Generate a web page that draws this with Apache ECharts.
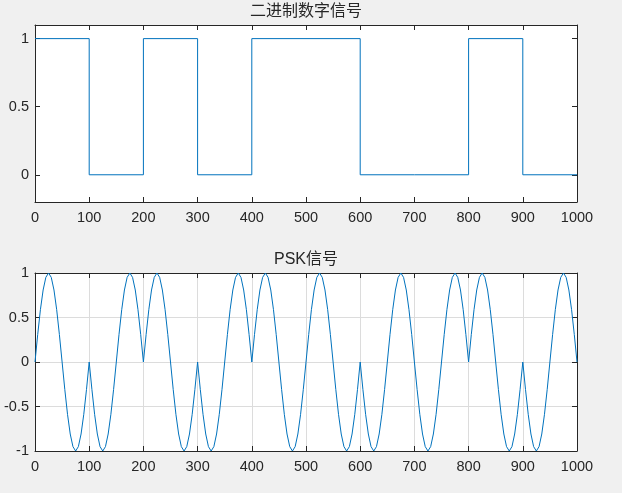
<!DOCTYPE html>
<html><head><meta charset="utf-8">
<script src="https://cdn.jsdelivr.net/npm/echarts@6/dist/echarts.min.js"></script>
<style>html,body{margin:0;padding:0;background:#f0f0f0}#c{width:622px;height:493px}</style>
</head><body><div id="c"></div>
<script>
// ---- data ----
const bitTitle = '二进制数字信号';
const pskTitle = 'PSK信号';
const bitDuration = 100;            // samples per bit
const bits = [1, 0, 1, 0, 1, 1, 0, 0, 1, 0];
const sampleStep = 5;               // spacing of the PSK samples below
const pskValues = [
  0, 0.309, 0.588, 0.809, 0.951, 1, 0.951, 0.809, 0.588, 0.309, 0, -0.309, -0.588, -0.809, -0.951, -1, -0.951, -0.809, -0.588, -0.309,
  0, -0.309, -0.588, -0.809, -0.951, -1, -0.951, -0.809, -0.588, -0.309, 0, 0.309, 0.588, 0.809, 0.951, 1, 0.951, 0.809, 0.588, 0.309,
  0, 0.309, 0.588, 0.809, 0.951, 1, 0.951, 0.809, 0.588, 0.309, 0, -0.309, -0.588, -0.809, -0.951, -1, -0.951, -0.809, -0.588, -0.309,
  0, -0.309, -0.588, -0.809, -0.951, -1, -0.951, -0.809, -0.588, -0.309, 0, 0.309, 0.588, 0.809, 0.951, 1, 0.951, 0.809, 0.588, 0.309,
  0, 0.309, 0.588, 0.809, 0.951, 1, 0.951, 0.809, 0.588, 0.309, 0, -0.309, -0.588, -0.809, -0.951, -1, -0.951, -0.809, -0.588, -0.309,
  0, 0.309, 0.588, 0.809, 0.951, 1, 0.951, 0.809, 0.588, 0.309, 0, -0.309, -0.588, -0.809, -0.951, -1, -0.951, -0.809, -0.588, -0.309,
  0, -0.309, -0.588, -0.809, -0.951, -1, -0.951, -0.809, -0.588, -0.309, 0, 0.309, 0.588, 0.809, 0.951, 1, 0.951, 0.809, 0.588, 0.309,
  0, -0.309, -0.588, -0.809, -0.951, -1, -0.951, -0.809, -0.588, -0.309, 0, 0.309, 0.588, 0.809, 0.951, 1, 0.951, 0.809, 0.588, 0.309,
  0, 0.309, 0.588, 0.809, 0.951, 1, 0.951, 0.809, 0.588, 0.309, 0, -0.309, -0.588, -0.809, -0.951, -1, -0.951, -0.809, -0.588, -0.309,
  0, -0.309, -0.588, -0.809, -0.951, -1, -0.951, -0.809, -0.588, -0.309, 0, 0.309, 0.588, 0.809, 0.951, 1, 0.951, 0.809, 0.588, 0.309,
  0
];
const xMin = 0, xMax = 1000, xInterval = 100;
const topYMin = -0.2, topYMax = 1.1;
const topYTicks = [0, 0.5, 1];
const bottomYMin = -1, bottomYMax = 1, bottomYInterval = 0.5;

// ---- build ----
const bitData = bits.map((b, i) => [i * bitDuration, b]);
bitData.push([bits.length * bitDuration, bits[bits.length - 1]]);
const pskData = pskValues.map((v, i) => [i * sampleStep, v]);

const axisColor = '#262626';
const gridColor = '#dcdcdc';
const lineColor = '#0072bd';
const font = '"Liberation Sans", Arial, "Noto Sans CJK SC", sans-serif';
const plain = v => String(v);

function xAxes(gi, split) {
  const base = {
    type: 'value', gridIndex: gi, min: xMin, max: xMax, interval: xInterval,
    axisLine: { show: true, onZero: false, lineStyle: { color: axisColor, width: 1 } },
    axisTick: { show: true, inside: true, length: 5, lineStyle: { color: axisColor } },
  };
  return [
    Object.assign({}, base, {
      position: 'bottom',
      axisLabel: { show: true, color: axisColor, fontSize: 14.5, fontFamily: font, margin: 9, formatter: plain },
      splitLine: { show: split, lineStyle: { color: gridColor, width: 1 } }
    }),
    Object.assign({}, base, {
      position: 'top',
      axisLabel: { show: false },
      splitLine: { show: false }
    })
  ];
}
function yAxes(gi, extra, split) {
  const base = Object.assign({
    type: 'value', gridIndex: gi,
    axisLine: { show: true, onZero: false, lineStyle: { color: axisColor, width: 1 } },
  }, extra.range);
  return [
    Object.assign({}, base, {
      position: 'left',
      axisTick: Object.assign({ show: true, inside: true, length: 5, lineStyle: { color: axisColor } }, extra.tick),
      axisLabel: Object.assign({ show: true, color: axisColor, fontSize: 14.5, fontFamily: font, margin: 6, formatter: plain }, extra.tick),
      splitLine: { show: split, lineStyle: { color: gridColor, width: 1 } }
    }),
    Object.assign({}, base, {
      position: 'right',
      axisTick: Object.assign({ show: true, inside: true, length: 5, lineStyle: { color: axisColor } }, extra.tick),
      axisLabel: { show: false },
      splitLine: { show: false }
    })
  ];
}

const chart = echarts.init(document.getElementById('c'), null, { renderer: 'canvas' });
chart.setOption({
  backgroundColor: '#f0f0f0',
  animation: false,
  title: [
    { text: bitTitle, left: 306, top: 4, textAlign: 'center', padding: 0,
      textStyle: { fontSize: 16, fontWeight: 'normal', color: axisColor, fontFamily: font } },
    { text: pskTitle, left: 306, top: 252, textAlign: 'center', padding: 0,
      textStyle: { fontSize: 16, fontWeight: 'normal', color: axisColor, fontFamily: font } }
  ],
  grid: [
    { left: 35, top: 25, width: 542, height: 177, show: true, backgroundColor: '#ffffff', borderWidth: 0 },
    { left: 35, top: 273, width: 542, height: 178, show: true, backgroundColor: '#ffffff', borderWidth: 0 }
  ],
  xAxis: [].concat(xAxes(0, false), xAxes(1, true)),
  yAxis: [].concat(
    yAxes(0, { range: { min: topYMin, max: topYMax }, tick: { customValues: topYTicks } }, false),
    yAxes(1, { range: { min: bottomYMin, max: bottomYMax, interval: bottomYInterval }, tick: {} }, true)
  ),
  series: [
    { type: 'line', xAxisIndex: 0, yAxisIndex: 0, data: bitData, step: 'end',
      showSymbol: false, lineStyle: { color: lineColor, width: 1 }, clip: true },
    { type: 'line', xAxisIndex: 2, yAxisIndex: 2, data: pskData,
      showSymbol: false, lineStyle: { color: lineColor, width: 1 }, clip: true }
  ]
});
</script>
</body></html>
